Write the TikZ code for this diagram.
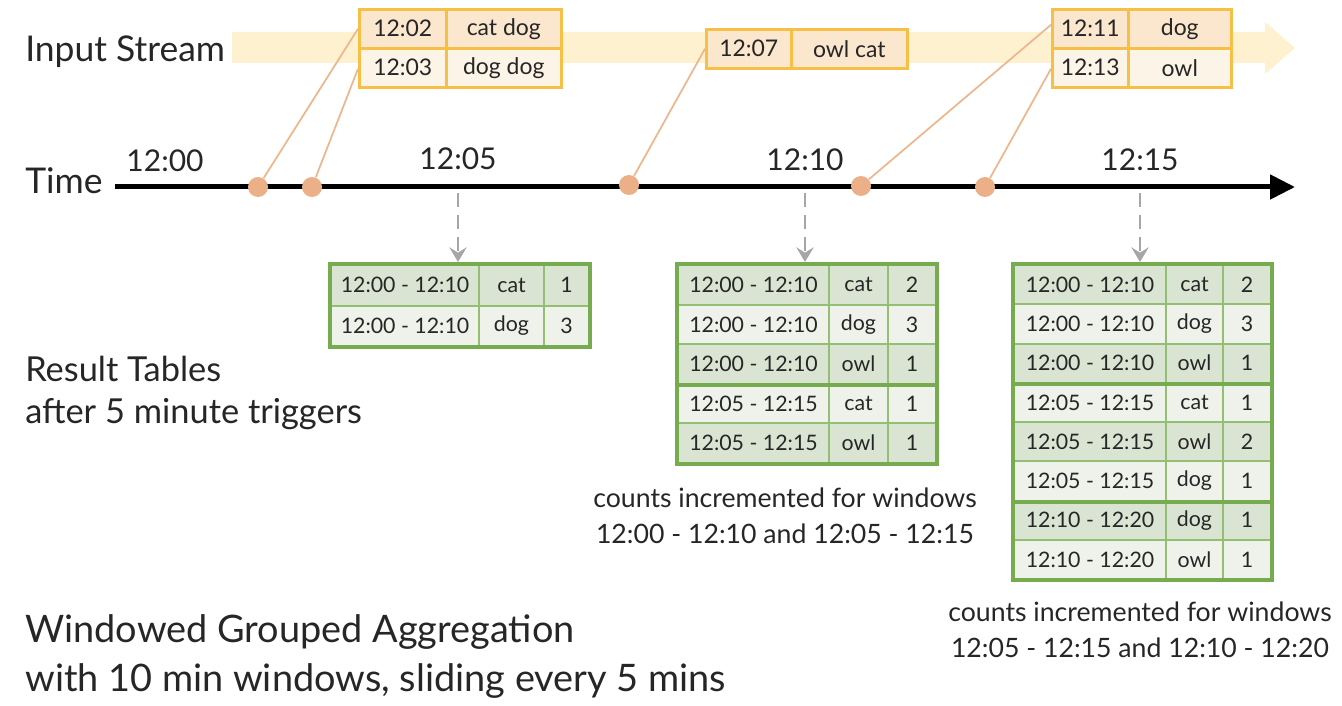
\documentclass[tikz,border=0pt]{standalone}
\usepackage{fontspec}
\setmainfont{Lato}
\usetikzlibrary{arrows.meta,calc}
\definecolor{txt}{RGB}{38,38,38}
\definecolor{band}{RGB}{253,241,208}
\definecolor{gold}{RGB}{246,192,70}
\definecolor{inA}{RGB}{251,230,206}
\definecolor{inB}{RGB}{253,244,232}
\definecolor{dot}{RGB}{235,176,136}
\definecolor{link}{RGB}{237,182,140}
\definecolor{grn}{RGB}{118,172,79}
\definecolor{grnin}{RGB}{146,191,113}
\definecolor{rowdk}{RGB}{217,229,210}
\definecolor{rowlt}{RGB}{238,242,235}
\definecolor{trig}{RGB}{166,166,166}
\tikzset{
  big/.style={font={\fontsize{26.6}{31.5}\selectfont}, text=txt, inner sep=0pt},
  mid/.style={font={\fontsize{25.8}{31.5}\selectfont}, text=txt, inner sep=0pt},
  huge/.style={font={\fontsize{28.4}{36.75}\selectfont}, text=txt, inner sep=0pt},
  tlab/.style={font={\fontsize{22.5}{27}\selectfont}, text=txt, inner sep=0pt, anchor=base},
  capt/.style={font={\fontsize{20}{27}\selectfont}, text=txt, inner sep=0pt, align=center, anchor=base},
  incell/.style={draw=gold, line width=1.9pt, inner sep=0pt, minimum height=39*0.75pt, anchor=north west, text=txt, font={\fontsize{17.2}{19}\selectfont}},
  rescell/.style={draw=grnin, line width=1.5pt, inner sep=0pt, anchor=north west, text=txt, font={\fontsize{16}{18}\selectfont}},
  outer/.style={draw=grn, line width=3pt},
  evdot/.style={circle, fill=dot, minimum size=20*0.75pt, inner sep=0pt},
  evlink/.style={draw=link, line width=1.3pt},
  axisline/.style={draw=black, line width=3.75pt, -{Triangle[length=18.75pt,width=18pt]}},
  trigger/.style={draw=trig, line width=2pt, dash pattern=on 10.5pt off 6pt, -{Stealth[length=11pt,width=13pt,inset=4pt]}},
}
\newcommand\tablerows[2]{%
  \foreach \i/\cwin/\cword/\ccnt/\cshade in {#2}{%
    \node[rescell, fill=\cshade, minimum width=\wa*0.75pt, minimum height=\rh*0.75pt] (#1-\i-a) at ({\tx},{\ty+(\i-1)*\rh}) {\cwin};
    \node[rescell, fill=\cshade, minimum width=\wb*0.75pt, minimum height=\rh*0.75pt] (#1-\i-b) at ({\tx+\wa},{\ty+(\i-1)*\rh}) {\cword};
    \node[rescell, fill=\cshade, minimum width=\wc*0.75pt, minimum height=\rh*0.75pt] (#1-\i-c) at ({\tx+\wa+\wb},{\ty+(\i-1)*\rh}) {\ccnt};
  }%
}
\begin{document}
\begin{tikzpicture}[x=0.75pt,y=-0.75pt]
\useasboundingbox (0,0) rectangle (1342,706);

% input stream band
\fill[band] (232,32) -- (1265,32) -- (1265,22) -- (1295,48) -- (1265,74) -- (1265,63) -- (232,63) -- cycle;

% labels (base anchor = baseline of last line)
\node[big, anchor=base west] (lIn) at (25,62) {Input Stream};
\node[big, anchor=base west] (lTime) at (25,194) {Time};
\node[mid, anchor=base west, align=left] (lRes) at (25,423) {Result Tables\\after 5 minute triggers};
\node[huge, anchor=base west, align=left] (lWin) at (25,691) {Windowed Grouped Aggregation\\with 10 min windows, sliding every 5 mins};

% time axis
\coordinate (ax0) at (115,187);
\coordinate (ax1) at (1295,187);
\draw[axisline] (ax0) -- (ax1);
\node[tlab] (t00) at (165,172) {12:00};
\node[tlab] (t05) at (458,170) {12:05};
\node[tlab] (t10) at (805,171) {12:10};
\node[tlab] (t15) at (1140,171) {12:15};

% input boxes
\node[incell, fill=inA, minimum width=87*0.75pt] (i1-1-a) at (358,8) {12:02};
\node[incell, fill=inA, minimum width=115*0.75pt] (i1-1-b) at (445,8) {cat dog};
\node[incell, fill=inB, minimum width=87*0.75pt] (i1-2-a) at (358,47) {12:03};
\node[incell, fill=inB, minimum width=115*0.75pt] (i1-2-b) at (445,47) {dog dog};

\node[incell, fill=inA, minimum width=85*0.75pt] (i2-1-a) at (705,28) {12:07};
\node[incell, fill=inA, minimum width=116*0.75pt] (i2-1-b) at (790,28) {owl cat};

\node[incell, fill=inA, minimum width=76*0.75pt] (i3-1-a) at (1051,8) {12:11};
\node[incell, fill=inA, minimum width=103*0.75pt] (i3-1-b) at (1127,8) {dog};
\node[incell, fill=inB, minimum width=76*0.75pt] (i3-2-a) at (1051,47) {12:13};
\node[incell, fill=inB, minimum width=103*0.75pt] (i3-2-b) at (1127,47) {owl};

% event dots and links
\node[evdot] (e1) at (258,187) {};
\node[evdot] (e2) at (312,187) {};
\node[evdot] (e3) at (629,185) {};
\node[evdot] (e4) at (861,186) {};
\node[evdot] (e5) at (985,187) {};
\draw[evlink] (e1) -- (i1-1-a.west);
\draw[evlink] (e2) -- ($(i1-2-a.west)+(0,1)$);
\draw[evlink] (e3) -- (i2-1-a.west);
\draw[evlink] (e4) -- ($(i3-1-a.west)+(0,-4)$);
\draw[evlink] (e5) -- ($(i3-2-a.west)+(0,1)$);

% result tables
\def\tx{330}\def\ty{264}\def\wa{148}\def\wb{65}\def\wc{45}\def\rh{40.5}
\tablerows{T1}{1/12:00 - 12:10/cat/1/rowdk, 2/12:00 - 12:10/dog/3/rowlt}
\draw[outer] (T1-1-a.north west) rectangle (T1-2-c.south east);

\def\tx{677}\def\ty{264}\def\wa{151}\def\wb{59}\def\wc{48}\def\rh{39.6}
\tablerows{T2}{1/12:00 - 12:10/cat/2/rowdk, 2/12:00 - 12:10/dog/3/rowlt, 3/12:00 - 12:10/owl/1/rowdk, 4/12:05 - 12:15/cat/1/rowlt, 5/12:05 - 12:15/owl/1/rowdk}
\draw[outer] (T2-1-a.north west) rectangle (T2-5-c.south east);
\draw[outer] (T2-3-a.south west) -- (T2-3-c.south east);

\def\tx{1013}\def\ty{264}\def\wa{152}\def\wb{57}\def\wc{48}\def\rh{39.25}
\tablerows{T3}{1/12:00 - 12:10/cat/2/rowdk, 2/12:00 - 12:10/dog/3/rowlt, 3/12:00 - 12:10/owl/1/rowdk, 4/12:05 - 12:15/cat/1/rowlt, 5/12:05 - 12:15/owl/2/rowdk, 6/12:05 - 12:15/dog/1/rowlt, 7/12:10 - 12:20/dog/1/rowdk, 8/12:10 - 12:20/owl/1/rowlt}
\draw[outer] (T3-1-a.north west) rectangle (T3-8-c.south east);
\draw[outer] (T3-3-a.south west) -- (T3-3-c.south east);
\draw[outer] (T3-6-a.south west) -- (T3-6-c.south east);

% trigger arrows
\coordinate (k1) at (458,193);
\coordinate (k2) at (805,193);
\coordinate (k3) at (1140,193);
\draw[trigger] (k1) -- ($(k1 |- T1-1-a.north)+(0,-2)$);
\draw[trigger] (k2) -- ($(k2 |- T2-1-a.north)+(0,-2)$);
\draw[trigger] (k3) -- ($(k3 |- T3-1-a.north)+(0,-2)$);

% captions
\node[capt] (c1) at (785,543) {counts incremented for windows\\12:00 - 12:10 and 12:05 - 12:15};
\node[capt] (c2) at (1140,657) {counts incremented for windows\\12:05 - 12:15 and 12:10 - 12:20};
\end{tikzpicture}
\end{document}
